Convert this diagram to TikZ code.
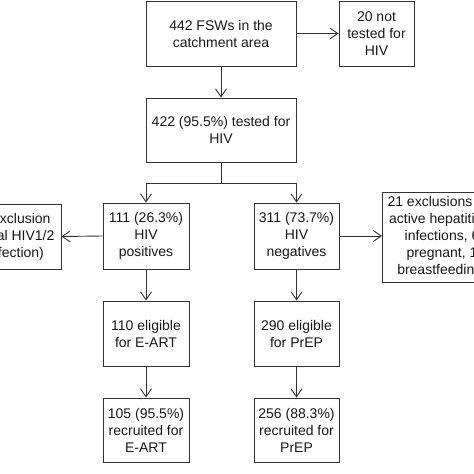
\documentclass[tikz,border=0pt]{standalone}
\usepackage{fontspec}
\setmainfont{Liberation Sans}
\usetikzlibrary{arrows.meta}
\begin{document}
\begin{tikzpicture}[x=1pt,y=-1pt,
  box/.style={draw=black!80, line width=0.9pt, rectangle, inner sep=0pt, align=center,
    text=black!90, font=\fontsize{14}{17}\selectfont},
  arr/.style={draw=black!80, line width=0.9pt, -{Straight Barb[length=8pt,width=11pt]}}]
\useasboundingbox (0,0) rectangle (474,474);
\clip (0,0) rectangle (474,474);
\fill[white] (0,0) rectangle (474,474);
% top row
\node[box, minimum width=150pt, minimum height=65pt] (top) at (221,33.5) {442 FSWs in the\\catchment area};
\node[box, minimum width=75pt, minimum height=65pt] (nt) at (376.5,33.5) {20 not\\tested for\\HIV};
% tested
\node[box, minimum width=150pt, minimum height=64pt] (tested) at (221,130) {422 (95.5\%) tested for\\HIV};
% second level
\node[box, minimum width=86pt, minimum height=66pt] (pos) at (146,236) {111 (26.3\%)\\HIV\\positives};
\node[box, minimum width=85pt, minimum height=66pt] (neg) at (296.5,236) {311 (73.7\%)\\HIV\\negatives};
\node[box, minimum width=91pt, minimum height=65pt] (exl) at (15.5,236.5) {1 exclusion\\(dual HIV1/2\\infection)};
\node[box, minimum width=119pt, minimum height=90pt] (exr) at (442,237) {21 exclusions (14\\active hepatitis B\\infections, 6\\pregnant, 1\\breastfeeding)};
% eligible
\node[box, minimum width=86pt, minimum height=65pt] (elA) at (146,333.5) {110 eligible\\for E-ART};
\node[box, minimum width=85pt, minimum height=65pt] (elP) at (296.5,333.5) {290 eligible\\for PrEP};
% recruited
\node[box, minimum width=86pt, minimum height=64pt] (reA) at (146,430) {105 (95.5\%)\\recruited for\\E-ART};
\node[box, minimum width=85pt, minimum height=64pt] (reP) at (296.5,430) {256 (88.3\%)\\recruited for\\PrEP};
% connectors
\draw[arr] (top.east) -- (nt.west);
\draw[arr] (top.south) -- (tested.north);
\draw[draw=black!80, line width=0.9pt] (tested.south) -- ++(0,21) coordinate (split);
\draw[arr] (split) -| (pos.north);
\draw[arr] (split) -| (neg.north);
\draw[arr] (pos.west) -- (exl.east);
\draw[arr] (neg.east) -- (exr.west |- neg.east);
\draw[arr] (pos.south) -- (elA.north);
\draw[arr] (neg.south) -- (elP.north);
\draw[arr] (elA.south) -- (reA.north);
\draw[arr] (elP.south) -- (reP.north);
\end{tikzpicture}
\end{document}
